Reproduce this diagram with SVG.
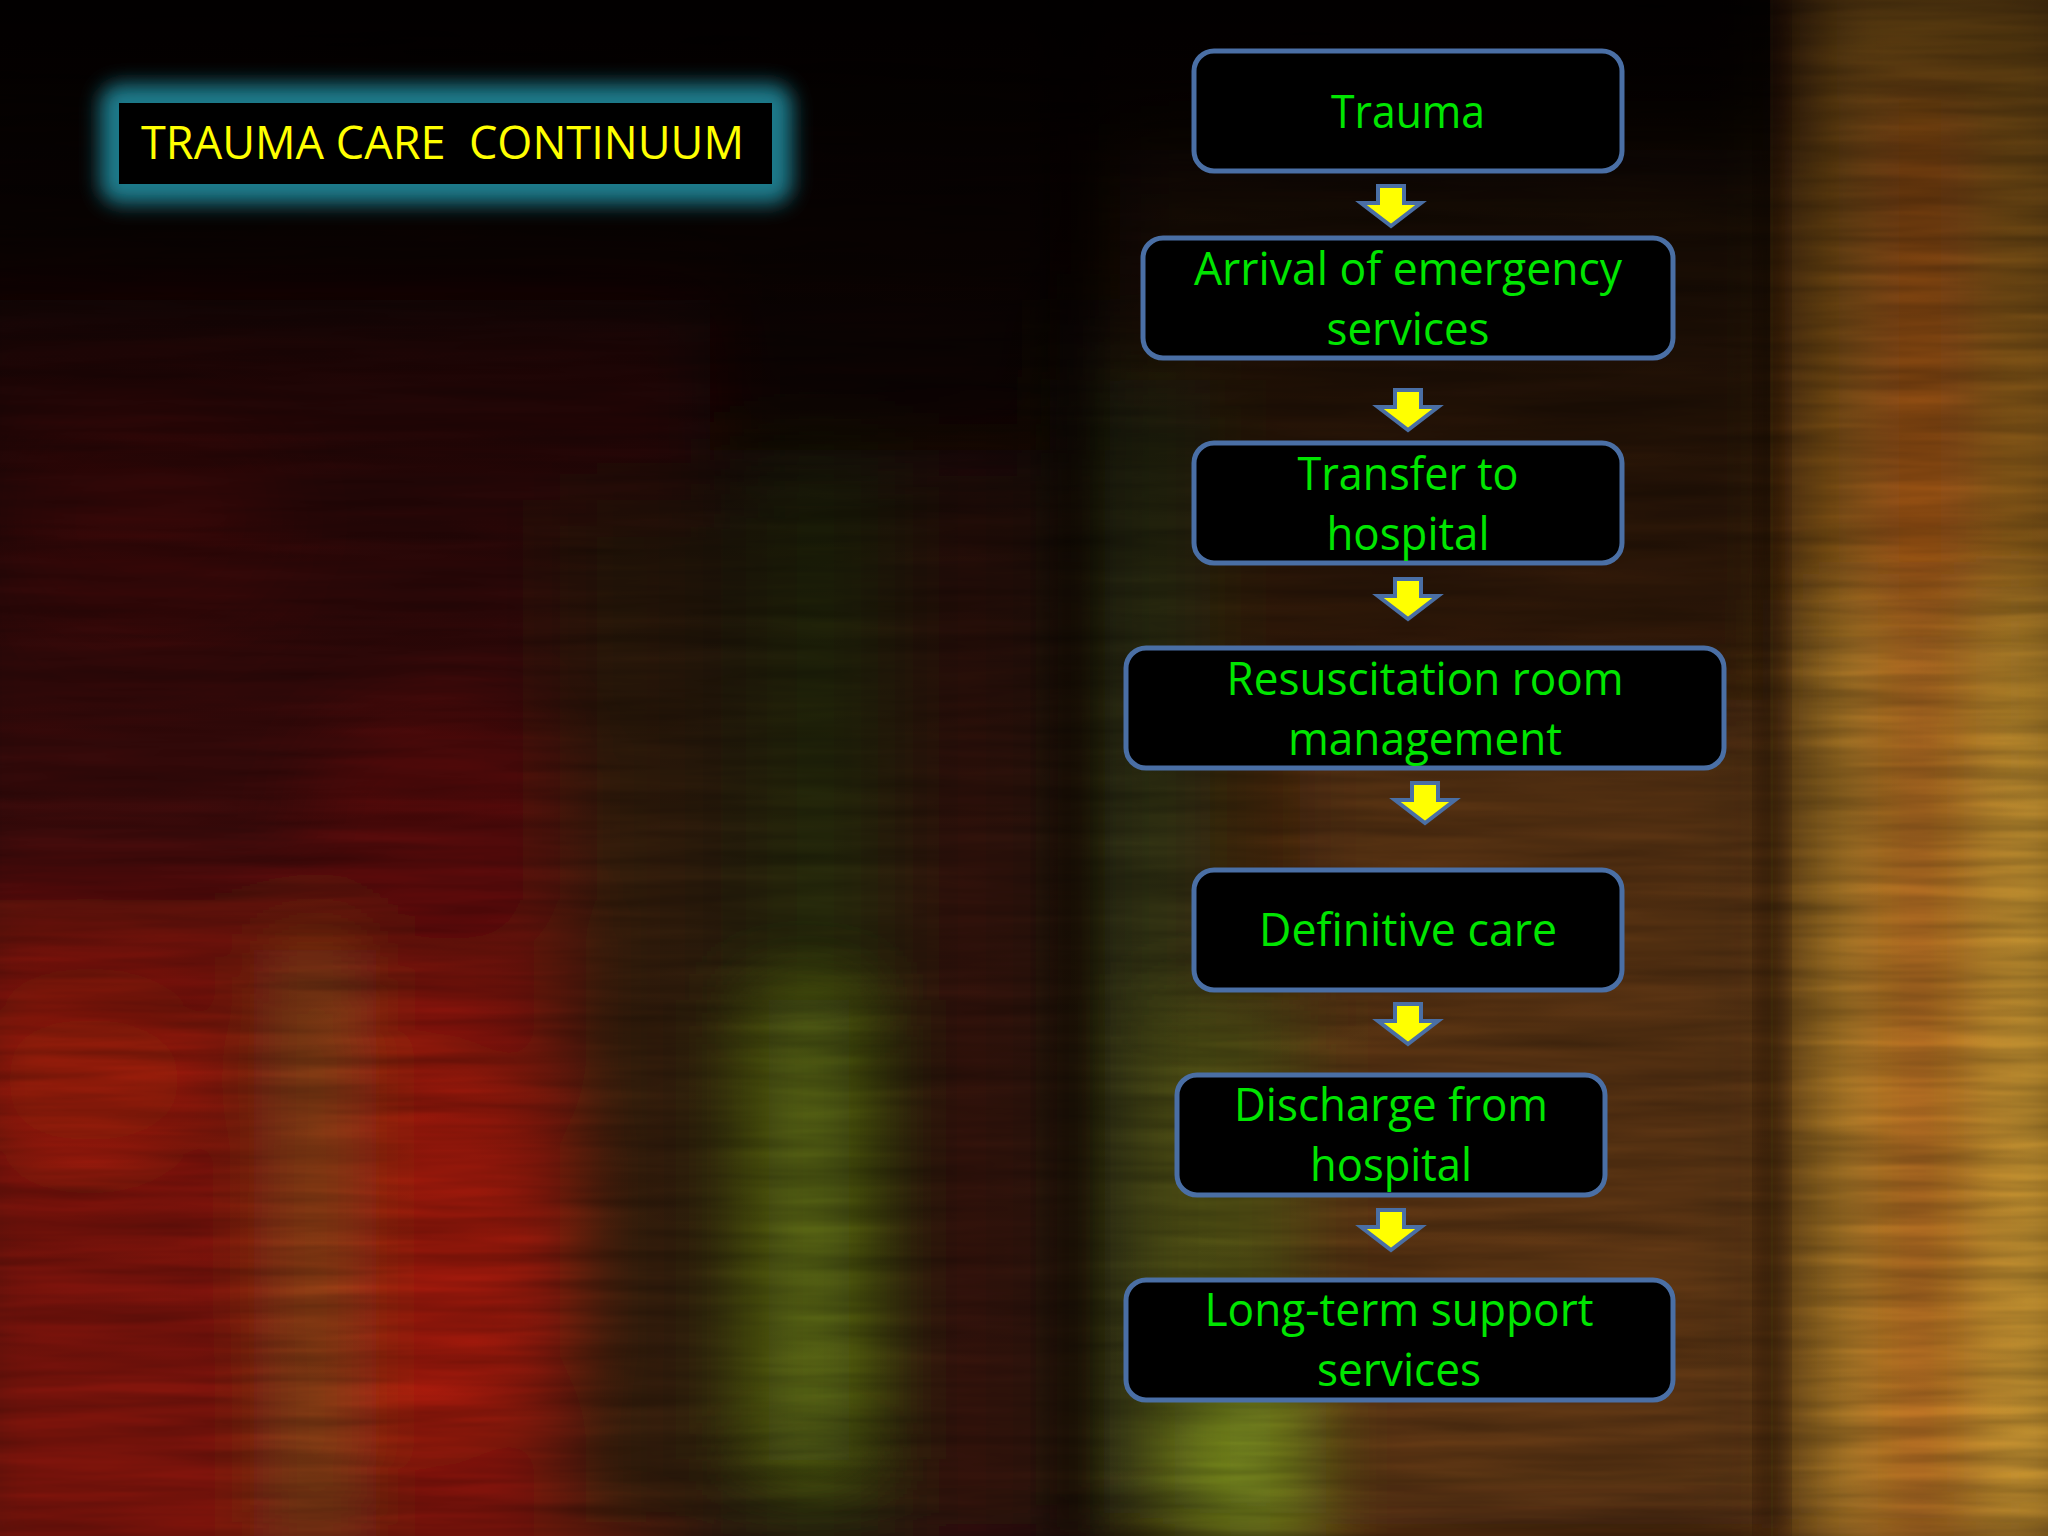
<svg xmlns="http://www.w3.org/2000/svg" width="2048" height="1536" viewBox="0 0 2048 1536">
<defs>
<style>
.node rect{fill:#000;stroke:#4a6fa5;stroke-width:5}
.lbl{font-family:"Open Sans","Liberation Sans",sans-serif;font-size:46px;fill:#00e600;text-anchor:middle}
.title{font-family:"Open Sans","Liberation Sans",sans-serif;font-size:46px;fill:#ffff00;white-space:pre}
.arr{fill:#ffff00;stroke:#4a6fa5;stroke-width:4;stroke-linejoin:miter}
</style>
<filter id="blur40" x="-50%" y="-50%" width="200%" height="200%"><feGaussianBlur stdDeviation="40"/></filter>
<filter id="blur15" x="-50%" y="-50%" width="200%" height="200%"><feGaussianBlur stdDeviation="15"/></filter>
<filter id="glow" x="-20%" y="-50%" width="140%" height="200%"><feGaussianBlur stdDeviation="10"/></filter>
<filter id="tex" x="0" y="0" width="100%" height="100%">
<feTurbulence type="fractalNoise" baseFrequency="0.004 0.06" numOctaves="3" seed="4"/>
<feColorMatrix type="matrix" values="0 0 0 0 0  0 0 0 0 0  0 0 0 0 0  0 0 0 -1.2 1.1"/>
</filter>
<linearGradient id="topdark" x1="0" y1="0" x2="0" y2="1">
<stop offset="0" stop-color="#000" stop-opacity="0.9"/>
<stop offset="0.25" stop-color="#000" stop-opacity="0.5"/>
<stop offset="0.55" stop-color="#000" stop-opacity="0.1"/>
<stop offset="1" stop-color="#000" stop-opacity="0"/>
</linearGradient>
<linearGradient id="topdark2" x1="0" y1="0" x2="0" y2="1">
<stop offset="0" stop-color="#000" stop-opacity="0.45"/>
<stop offset="0.3" stop-color="#000" stop-opacity="0.1"/>
<stop offset="1" stop-color="#000" stop-opacity="0"/>
</linearGradient>
<path id="arrow" class="arr" d="M-13,0 H13 V17 H30 L0,40 L-30,17 H-13 Z"/>
</defs>

<g id="background">
<rect width="2048" height="1536" fill="#1c0806"/>
<g filter="url(#blur40)">
<rect x="-50" y="300" width="760" height="1300" fill="#4a0a08"/>
<ellipse cx="150" cy="520" rx="140" ry="120" fill="#5a0c0a"/>
<ellipse cx="430" cy="600" rx="130" ry="140" fill="#4a0a08"/>
<rect x="-50" y="900" width="700" height="700" fill="#8a1410"/>
<ellipse cx="420" cy="1250" rx="160" ry="220" fill="#b01c10"/>
<ellipse cx="90" cy="1080" rx="120" ry="90" fill="#b8200e"/>
<ellipse cx="450" cy="820" rx="140" ry="120" fill="#6a0e0a"/>
<rect x="290" y="950" width="50" height="600" fill="#8a5a20"/>
<rect x="560" y="500" width="160" height="1050" fill="#3a2010"/>
<rect x="740" y="450" width="150" height="1100" fill="#2e3210"/>
<rect x="755" y="1000" width="100" height="460" fill="#6a7a18"/>
<rect x="900" y="450" width="150" height="1100" fill="#3a1810"/>
<rect x="1060" y="300" width="80" height="1250" fill="#1a1a08"/>
<rect x="1120" y="150" width="660" height="1400" fill="#4a2810"/>
<rect x="1100" y="380" width="110" height="1150" fill="#3a3e14"/>
<rect x="1150" y="1000" width="200" height="540" fill="#5a5a18"/>
<rect x="1200" y="1380" width="120" height="170" fill="#8aa020"/>
<rect x="1300" y="700" width="470" height="850" fill="#6a3c14"/>
<rect x="1800" y="-50" width="300" height="1600" fill="#a06a1c"/>
<rect x="1820" y="600" width="260" height="960" fill="#d09a30"/>
<rect x="1890" y="100" width="60" height="1450" fill="#b85018"/>
<rect x="1990" y="750" width="80" height="750" fill="#e0a838"/>
</g>
<rect x="1762" y="0" width="20" height="1536" fill="#120804" opacity="0.7" filter="url(#blur15)"/>
<rect x="1050" y="0" width="40" height="1536" fill="#0a0604" opacity="0.5" filter="url(#blur15)"/>
<rect width="1770" height="1536" fill="url(#topdark)"/>
<rect x="1770" width="278" height="1536" fill="url(#topdark2)"/>
<rect width="2048" height="1536" filter="url(#tex)" opacity="0.35"/>
</g>

<g id="title">
<rect x="100" y="84" width="692" height="120" rx="20" fill="#1a7c8c" filter="url(#glow)"/>
<rect x="119" y="103" width="653" height="81" fill="#000"/>
<text class="title" x="141" y="159" textLength="603" lengthAdjust="spacingAndGlyphs" xml:space="preserve">TRAUMA CARE  CONTINUUM</text>
</g>

<g id="connectors">
<use href="#arrow" x="1391" y="186"/>
<use href="#arrow" x="1408" y="390"/>
<use href="#arrow" x="1408" y="579"/>
<use href="#arrow" x="1425" y="783"/>
<use href="#arrow" x="1408" y="1004"/>
<use href="#arrow" x="1391" y="1210"/>
</g>

<g id="node-trauma" class="node">
<rect x="1194" y="51" width="428" height="120" rx="20"/>
<text class="lbl" x="1408" y="128" textLength="154" lengthAdjust="spacingAndGlyphs">Trauma</text>
</g>
<g id="node-arrival" class="node">
<rect x="1143" y="238" width="530" height="120" rx="20"/>
<text class="lbl" x="1408" y="285" textLength="428" lengthAdjust="spacingAndGlyphs">Arrival of emergency</text>
<text class="lbl" x="1408" y="345" textLength="163" lengthAdjust="spacingAndGlyphs">services</text>
</g>
<g id="node-transfer" class="node">
<rect x="1194" y="443" width="428" height="120" rx="20"/>
<text class="lbl" x="1408" y="490" textLength="221" lengthAdjust="spacingAndGlyphs">Transfer to</text>
<text class="lbl" x="1408" y="550" textLength="163" lengthAdjust="spacingAndGlyphs">hospital</text>
</g>
<g id="node-resus" class="node">
<rect x="1126" y="648" width="598" height="120" rx="20"/>
<text class="lbl" x="1425" y="695" textLength="397" lengthAdjust="spacingAndGlyphs">Resuscitation room</text>
<text class="lbl" x="1425" y="755" textLength="274" lengthAdjust="spacingAndGlyphs">management</text>
</g>
<g id="node-definitive" class="node">
<rect x="1194" y="870" width="428" height="120" rx="20"/>
<text class="lbl" x="1408" y="946" textLength="298" lengthAdjust="spacingAndGlyphs">Definitive care</text>
</g>
<g id="node-discharge" class="node">
<rect x="1177" y="1075" width="428" height="120" rx="20"/>
<text class="lbl" x="1391" y="1121" textLength="314" lengthAdjust="spacingAndGlyphs">Discharge from</text>
<text class="lbl" x="1391" y="1181" textLength="162" lengthAdjust="spacingAndGlyphs">hospital</text>
</g>
<g id="node-longterm" class="node">
<rect x="1126" y="1280" width="547" height="120" rx="20"/>
<text class="lbl" x="1399" y="1326" textLength="389" lengthAdjust="spacingAndGlyphs">Long-term support</text>
<text class="lbl" x="1399" y="1386" textLength="164" lengthAdjust="spacingAndGlyphs">services</text>
</g>
</svg>
